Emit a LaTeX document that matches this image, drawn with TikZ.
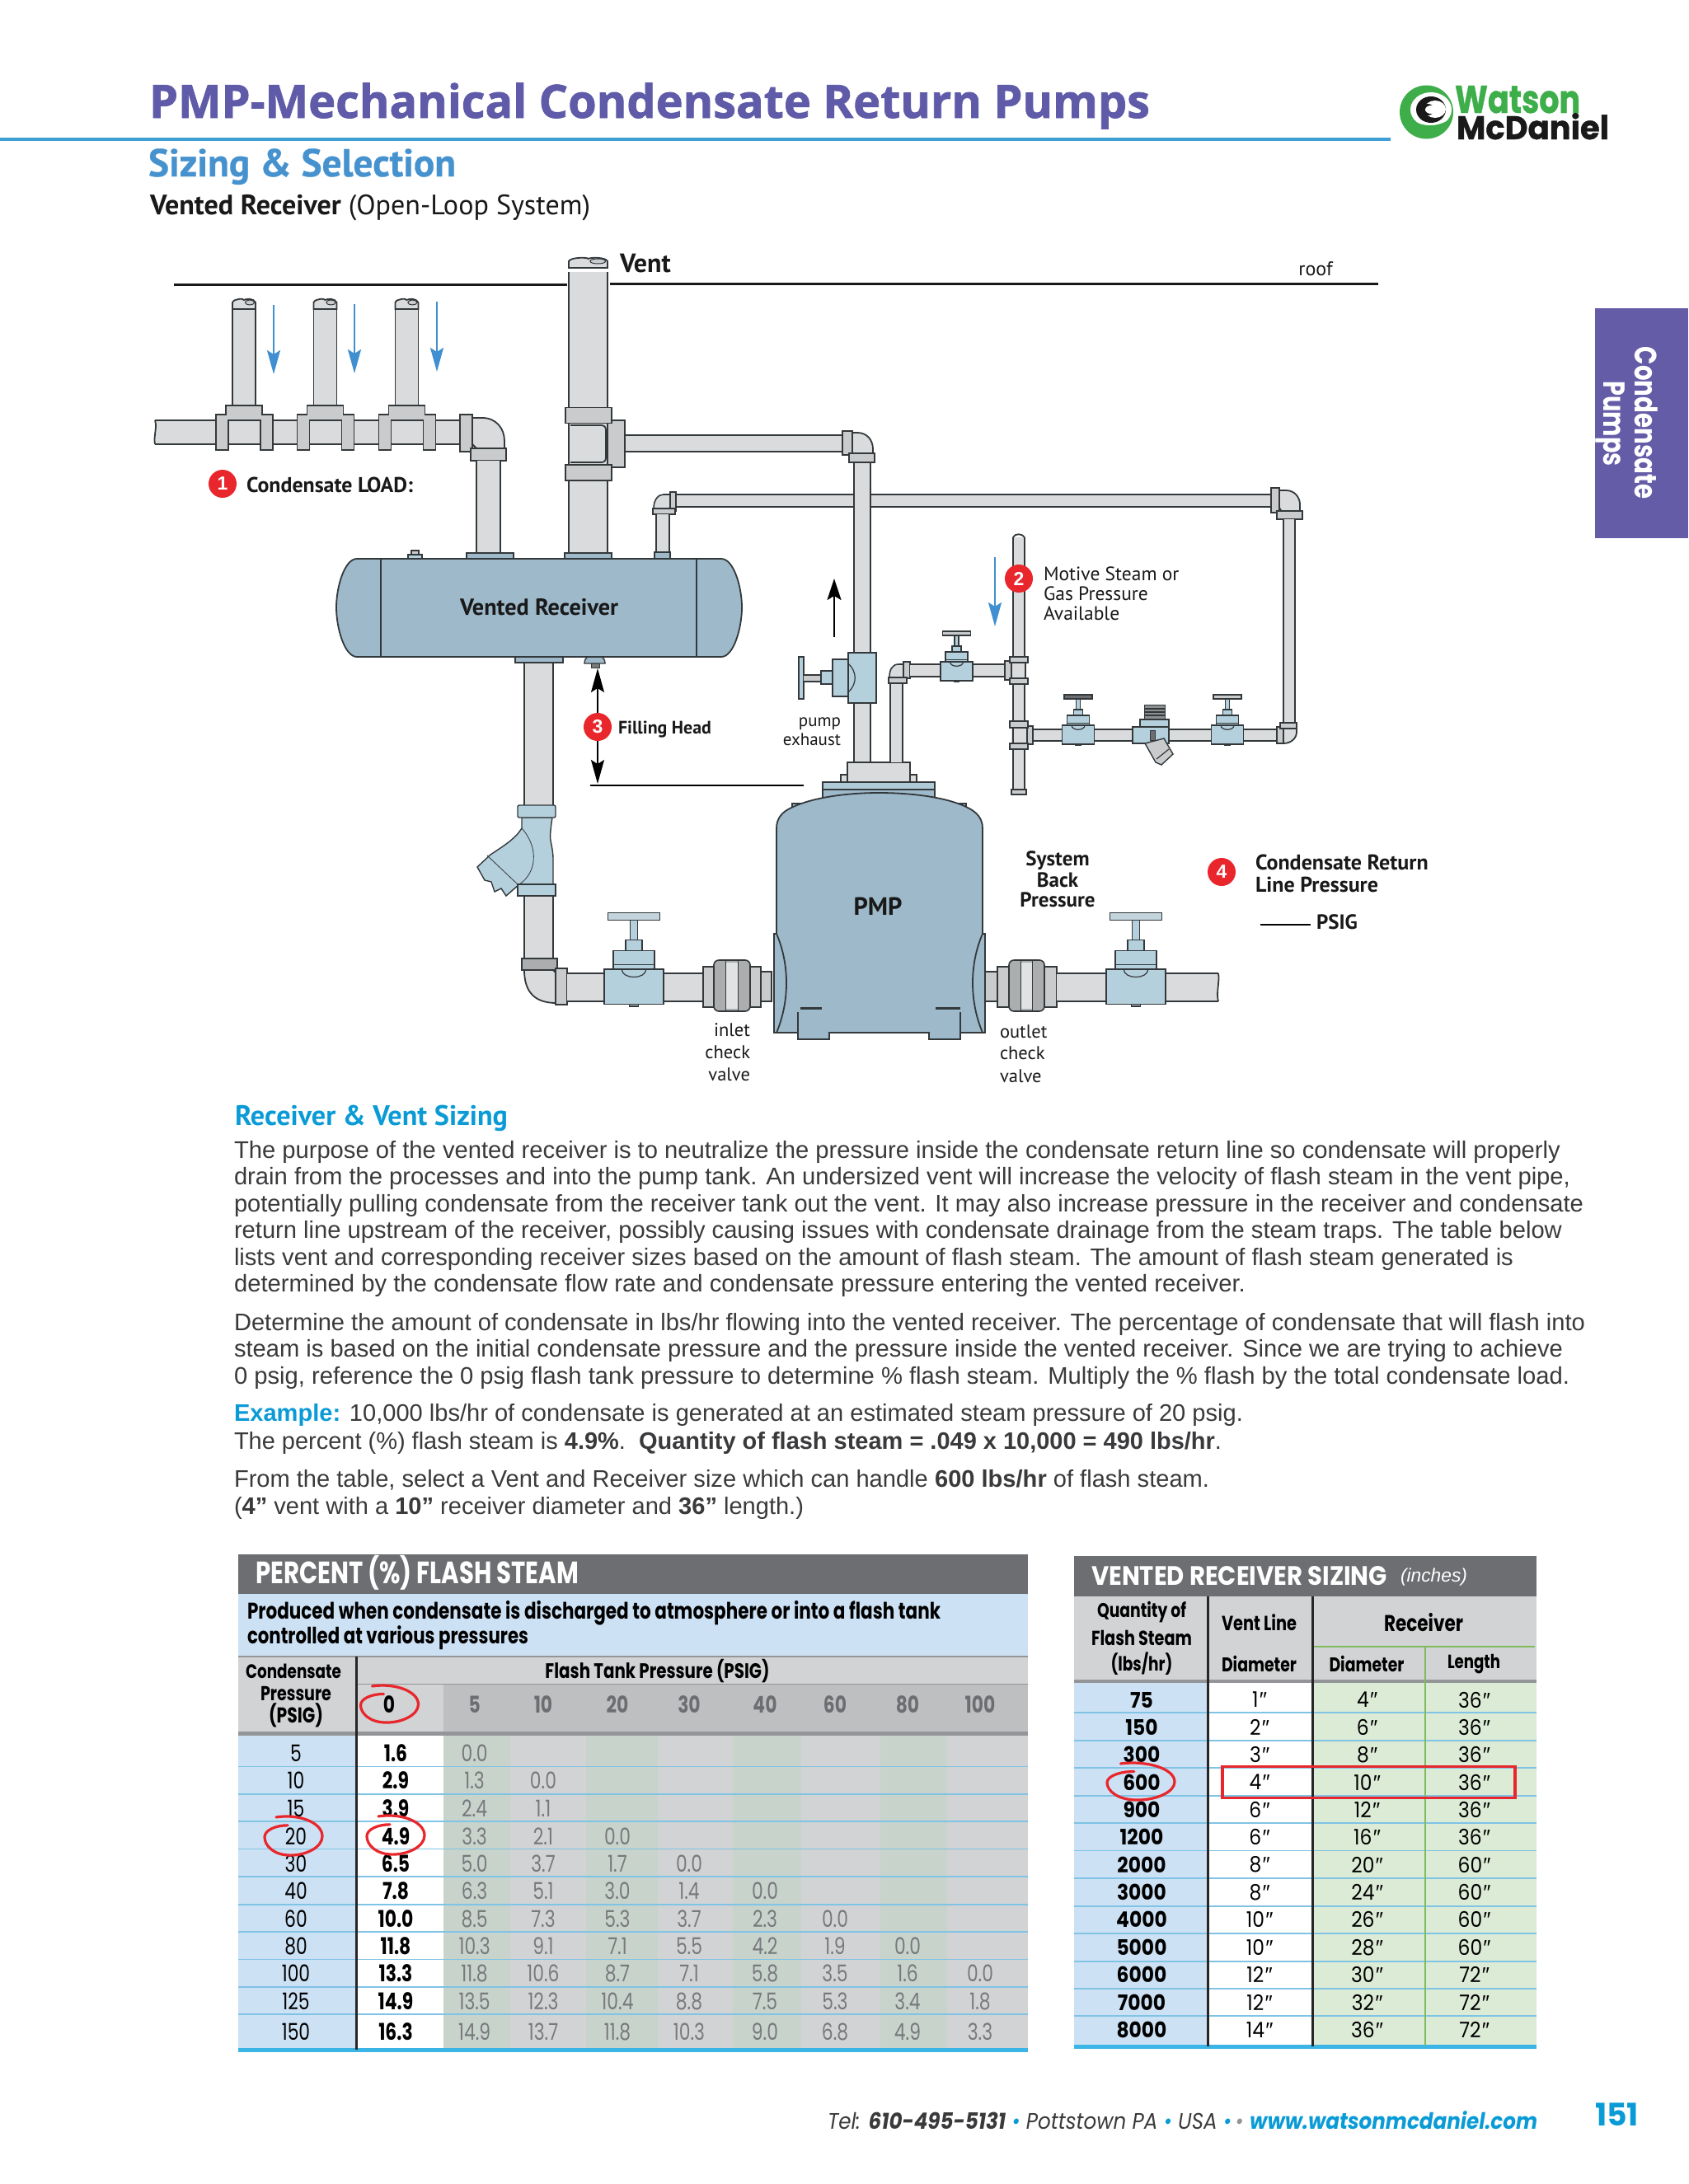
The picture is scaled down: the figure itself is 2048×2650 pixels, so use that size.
\documentclass[tikz,border=0pt]{standalone}
\usepackage{fontspec}
\usepackage{graphicx}
\usetikzlibrary{arrows.meta,calc}
\setmainfont{Liberation Sans}
\newfontfamily\ptf{PT Sans}
\newfontfamily\ptfb[FakeBold=.6]{PT Sans}
\newfontfamily\osf[FakeBold=1.4]{Open Sans}
\newfontfamily\popf{Poppins}
\newfontfamily\popx[FakeBold=1]{Poppins}
\newfontfamily\tbb[FakeStretch=.78]{Poppins}
\newfontfamily\tbw[FakeStretch=.9]{Poppins}
\newcommand\fsz[1]{\fontsize{#1pt}{#1pt}\selectfont}
\newcommand\wl[2]{\resizebox{#1pt}{!}{#2}}
\definecolor{ink}{HTML}{33383B}
\definecolor{pipefill}{HTML}{DADBDD}
\definecolor{flangefill}{HTML}{C9CBCD}
\definecolor{tankblue}{HTML}{9DB9CA}
\definecolor{valveblue}{HTML}{B4D0DC}
\definecolor{arrowblue}{HTML}{408FD0}
\definecolor{markred}{HTML}{E8262B}
\definecolor{purple1}{HTML}{5F5BA8}
\definecolor{tabpurple}{HTML}{655CA8}
\definecolor{titleblue}{HTML}{4692CE}
\definecolor{headblue}{HTML}{0A9BD6}
\definecolor{rulecol}{HTML}{3D9FD3}
\definecolor{bandgray}{HTML}{6D6E71}
\definecolor{lightblue}{HTML}{CDE1F4}
\definecolor{hdgray}{HTML}{D1D3D4}
\definecolor{hdgray2}{HTML}{BDBFC1}
\definecolor{bargray}{HTML}{939598}
\definecolor{colgreen}{HTML}{C8D3CC}
\definecolor{rowline}{HTML}{7FC3E5}
\definecolor{botband}{HTML}{3AB5E6}
\definecolor{valgray}{HTML}{77797C}
\definecolor{paleg}{HTML}{DCEBD6}
\definecolor{gline}{HTML}{7FBB5E}
\definecolor{logogreen}{HTML}{3DAE49}
\definecolor{bodyc}{HTML}{3A3A3C}
\tikzset{
  ln/.style={draw=ink,line width=1.8pt},
  flange/.style={fill=flangefill,draw=ink,line width=1.6pt},
  vbody/.style={fill=valveblue,draw=ink,line width=1.4pt},
  tankst/.style={fill=tankblue,draw=ink,line width=1.8pt},
  bluearr/.style={draw=arrowblue,line width=2.4pt,-{Stealth[length=29pt,width=16pt,inset=5pt]}},
  blackarr/.style={draw=black,line width=2pt,-{Stealth[length=26pt,width=17pt,inset=5pt]}},
  num/.style={circle,fill=markred,text=white,minimum size=34pt,font=\fsz{23}\bfseries},
  lbb/.style={font=\ptf\fsz{25}\bfseries,text=black!90},
  lbr/.style={font=\ptf\fsz{22.5},text=black!90},
  bodyl/.style={anchor=base west,text=bodyc,font=\fsz{30}},
  redl/.style={draw=markred,line width=3.2pt,line cap=round},
}
\newcommand\hp[4]{\fill[pipefill] (#1,#3) rectangle (#2,#4); \draw[ln] (#1,#3)--(#2,#3) (#1,#4)--(#2,#4);}
\newcommand\vp[4]{\fill[pipefill] (#1,#3) rectangle (#2,#4); \draw[ln] (#1,#3)--(#1,#4) (#2,#3)--(#2,#4);}
\newcommand\fl[4]{\filldraw[flange] (#1,#2) rectangle (#3,#4);}
\newcommand\gv[4]{\begin{scope}[shift={(#1,#2)},scale=#3]
 \fill[#4,draw=ink,line width=1.2pt] (-17,-49) rectangle (17,-44);
 \filldraw[vbody] (-2.5,-44) rectangle (2.5,-31);
 \filldraw[vbody] (-5.5,-31) rectangle (5.5,-24);
 \filldraw[vbody] (-13.5,-24) rectangle (13.5,-12);
 \filldraw[vbody] (-19.5,-12) rectangle (19.5,11);
 \draw[draw=ink,line width=.9pt] (-13.5,-15)--(13.5,-15);
 \draw[draw=ink,line width=1.2pt] (-8,-12) .. controls (-8,-5) and (8,-5) .. (8,-12);
 \filldraw[vbody] (-3,11) rectangle (3,12.5);
\end{scope}}
\newcommand\cvbar[4]{%
 \fl{#1}{1173}{#2}{1222}
 \fl{#3}{1173}{#4}{1222}
 \filldraw[fill=flangefill!85!black,draw=ink,line width=1.6pt,rounded corners=6pt] (#2,1165) rectangle (#3,1227);
 \fill[flangefill!55!white] ($(#2,1168)!.33!(#3,1168)$) rectangle ($(#2,1224)!.67!(#3,1224)$);
 \draw[draw=ink,line width=1.2pt] ($(#2,1166)!.33!(#3,1166)$)--($(#2,1226)!.33!(#3,1226)$) ($(#2,1166)!.67!(#3,1166)$)--($(#2,1226)!.67!(#3,1226)$);
}
\newcommand\ptop[3]{%
 \filldraw[fill=pipefill,draw=ink,line width=1.8pt] (#1,{#3+4}) .. controls ({#1+2},{#3-1}) and ({(#1+#2)/2},{#3-1}) .. ({(#1+#2)/2},{#3+1}) .. controls ({(#1+#2)/2+3},{#3-1}) and ({#2-2},{#3-1}) .. (#2,{#3+4}) -- (#2,{#3+12}) -- (#1,{#3+12}) -- cycle;
 \filldraw[fill=flangefill,draw=ink,line width=1pt] ({(#1+3*#2)/4},{#3+4}) ellipse ({(#2-#1)/5} and 3);
}
\newcommand\redloop[4]{\begin{scope}[shift={(#1,#2)},xscale=#3,yscale=#4]
 \draw[redl] (-.6,-1.05) .. controls (.2,-1.25) and (1,-.75) .. (1,0) .. controls (1,.6) and (.45,1.05) .. (-.1,1.05) .. controls (-.7,1.05) and (-1,.5) .. (-1,.05) .. controls (-1,-.35) and (-.6,-.6) .. (-.2,-.6);
\end{scope}}
\begin{document}
\begin{tikzpicture}[x=1pt,y=-1pt,every node/.style={inner sep=0pt,outer sep=0pt}]
\fill[white] (0,0) rectangle (2048,2650);
\useasboundingbox (0,0) rectangle (2048,2650);

%% ---------- page head
\node[anchor=base west,text=purple1,font=\osf\bfseries\fsz{58}] (title) at (181,143) {\wl{1214}{PMP-Mechanical Condensate Return Pumps}};
\draw[draw=rulecol,line width=3.5pt] (0,169)--(1687,169);
\node[anchor=base west,text=titleblue,font=\ptfb\bfseries\fsz{46}] (subt) at (180,214) {\wl{373}{Sizing \& Selection}};
\node[anchor=base west,text=black!90,font=\ptf\fsz{32}] (subs) at (182,260) {\wl{534}{{\bfseries Vented Receiver} (Open-Loop System)}};
%% logo
\fill[logogreen] (1730.5,136) circle (32.5);
\fill[white] (1736,133) ellipse (25 and 21);
\fill[logogreen] (1714,146) .. controls (1722,160) and (1745,162) .. (1760,144) .. controls (1745,154) and (1728,155) .. (1714,146);
\fill[black!90] (1736,133) ellipse (18 and 16);
\fill[white] (1741,132.5) ellipse (13 and 10.5);
\fill[black!90] (1732,133) ellipse (8 and 7);
\fill[white] (1736,133) ellipse (7 and 5);
\node[anchor=base west,text=logogreen,font=\popx\bfseries] (logoa) at (1765,137) {\resizebox{152pt}{33pt}{Watson}};
\node[anchor=base west,text=black!90,font=\popx\bfseries] (logob) at (1767,169) {\resizebox{185pt}{32pt}{McDaniel}};
%% side tab
\fill[tabpurple] (1935,374) rectangle (2048,653);
\node[rotate=-90,text=white,font=\tbb\bfseries] (tab1) at (1997,513) {\wl{184}{Condensate}};
\node[rotate=-90,text=white,font=\tbb\bfseries] (tab2) at (1953,514) {\wl{103}{Pumps}};

%% ---------- roof and labels
\draw[draw=black!90,line width=3pt] (211,345)--(688,345) (740,344)--(1672,344);
\node[anchor=west,font=\ptf\bfseries\fsz{32},text=black!90] (vent) at (752,320) {Vent};
\node[anchor=center,font=\ptf\fsz{24},text=black!90] (roof) at (1596,326) {roof};

%% ---------- steam pipe behind exhaust
\hp{820}{1542}{600}{615}
\vp{1036}{1056}{561}{925}
\hp{758}{1022}{528}{548}
\filldraw[fill=pipefill,draw=ink,line width=1.8pt] (1034,525) -- (1040,525) .. controls (1052,525) and (1059,534) .. (1059,545) -- (1059,551) -- (1036,551) -- (1034,549) -- cycle;
\fl{1022}{523}{1034}{552}
\fl{1030}{550}{1061}{561}
\filldraw[fill=pipefill,draw=ink,line width=1.8pt] (1552,595) -- (1560,595) .. controls (1571,595) and (1577,604) .. (1577,612) -- (1577,621) -- (1555,621) -- (1552,616) -- cycle;
\fl{1542}{592}{1552}{622}
\fl{1549}{620}{1580}{630}
\vp{1557}{1571}{630}{877}
\filldraw[fill=pipefill,draw=ink,line width=1.6pt] (813,600) -- (805,600) .. controls (798,600) and (793,607) .. (793,617) -- (812,617) -- (813,615) -- cycle;
\fl{813}{597}{820}{620}
\fl{792}{617}{819}{624}
\vp{796}{812}{624}{670}
\fl{794}{670}{813}{680}

%% ---------- load header
\hp{188}{558}{510}{539}
\draw[ln] (188,510) .. controls (191,518) and (186,530) .. (188,539);
\foreach \dx [count=\n] in {0,98.5,197.4}{
 \begin{scope}[shift={(\dx,0)}]
  \vp{282}{310}{375}{492}
  \ptop{282}{310}{363}
  \fill[pipefill] (277,510) rectangle (316,539);
  \draw[ln] (277,539)--(316,539);
  \filldraw[flange] (274,492)--(318,492)--(318,503)--(331,503)--(331,546)--(316,546)--(316,510)--(277,510)--(277,546)--(262,546)--(262,503)--(274,503)--cycle;
 \end{scope}}
\filldraw[fill=pipefill,draw=ink,line width=1.8pt] (573,507)--(585,507) .. controls (602,507) and (612,520) .. (612,535)--(612,544)--(578,544)--(573,539)--cycle;
\fl{558}{503}{573}{548}
\fl{571}{544}{614}{559}
\vp{578}{607}{559}{672}
\coordinate (la1) at (332,370); \coordinate (lb1) at (332,454);
\coordinate (la2) at (430,369); \coordinate (lb2) at (430,453);
\coordinate (la3) at (530,366); \coordinate (lb3) at (530,451);
\draw[bluearr] (la1)--(lb1);
\draw[bluearr] (la2)--(lb2);
\draw[bluearr] (la3)--(lb3);
\node[num] (n1) at (270,587) {1};
\node[anchor=base west,font=\ptf\bfseries,text=black!90] (loadl) at (299,597) {\wl{202}{\fsz{26}Condensate LOAD:}};

%% ---------- vent pipe and tee
\vp{690}{737}{330}{672}
\ptop{690}{737}{313}
\filldraw[fill=flangefill,draw=ink,line width=1.6pt] (737,513)--(742,510)--(758,510)--(758,567)--(742,567)--(737,564)--cycle;
\fill[pipefill] (690,513) rectangle (735,564);
\draw[ln] (692,516)--(729,516) .. controls (733,516) and (735,518) .. (735,522)--(735,555) .. controls (735,559) and (733,561) .. (729,561)--(692,561);
\draw[ln] (690,513)--(690,564);
\fl{686}{494.5}{742}{513.6}
\fl{686}{564}{742}{583}

%% ---------- receiver fittings
\filldraw[flange] (499,668) rectangle (508,675);
\filldraw[fill=valveblue,draw=ink,line width=1.4pt] (495,673) rectangle (512,680);
\filldraw[fill=tankblue,draw=ink,line width=1.6pt] (566,671)--(623,671)--(623,680) .. controls (605,686) and (584,686) .. (566,680)--cycle;
\filldraw[fill=tankblue,draw=ink,line width=1.6pt] (685,671)--(742,671)--(742,680) .. controls (725,686) and (702,686) .. (685,680)--cycle;
\filldraw[fill=tankblue,draw=ink,line width=1.4pt] (794,670) rectangle (813,680);
%% drain pipe and strainer
\vp{636}{671}{804}{977}
\vp{636}{671}{1087}{1163}
\filldraw[fill=valveblue,draw=ink,line width=1.4pt] (633,992)--(670,992) .. controls (668,1005) and (667,1015) .. (668,1020) .. controls (670,1030) and (671,1035) .. (671,1043)--(671,1073)--(630,1073)--(614,1087)--(608,1078)--(600,1082)--(596,1070)--(588,1068)--(579,1052)--(595,1037) .. controls (610,1027) and (625,1018) .. (633,1005)--cycle;
\draw[draw=ink,line width=.8pt] (633,1005) .. controls (655,1030) and (650,1060) .. (630,1073) (591,1038)--(628,1073);
\filldraw[fill=valveblue,draw=ink,line width=1.4pt,rounded corners=2pt] (628,977) rectangle (674,992);
\filldraw[fill=valveblue,draw=ink,line width=1.4pt] (628,1073) rectangle (674,1087);
%% bottom port
\filldraw[fill=flangefill!60!black,draw=ink,line width=1pt] (717,803) rectangle (727,810);
\filldraw[fill=tankblue,draw=ink,line width=1.4pt] (709,805) .. controls (709,790) and (734,790) .. (734,805)--cycle;
\filldraw[fill=tankblue,draw=ink,line width=1.6pt] (625,804)--(683,804)--(683,798) .. controls (670,788) and (638,788) .. (625,798)--cycle;
%% receiver
\filldraw[tankst] (433,678)--(875,678) .. controls (890,678) and (900,712) .. (900,737) .. controls (900,762) and (890,797) .. (875,797)--(433,797) .. controls (418,797) and (408,762) .. (408,737) .. controls (408,712) and (418,678) .. (433,678)--cycle;
\draw[ln] (462,678)--(462,797) (845,678)--(845,797);
\node[font=\ptf\bfseries\fsz{29},text=black!90] (recv) at (654,737) {\wl{192}{Vented Receiver}};

%% filling head
\coordinate (fha) at (725,811); \coordinate (fhb) at (725,951);
\draw[draw=black,line width=1.6pt,{Stealth[length=29pt,width=16pt,inset=5pt]}-{Stealth[length=29pt,width=16pt,inset=5pt]}] (fha)--(fhb);
\draw[draw=black,line width=2.4pt] (716,953)--(975,953);
\node[num] (n3) at (725,882) {3};
\node[anchor=base west,font=\ptf\bfseries,text=black!90] (filll) at (750,890) {\wl{113}{\fsz{24}Filling Head}};

%% ---------- drain elbow and inlet line
\filldraw[fill=pipefill,draw=ink,line width=1.8pt] (636,1177) .. controls (636,1205) and (650,1217) .. (675,1217)--(675,1181)--(671,1177)--cycle;
\filldraw[fill=flangefill!85!black,draw=ink,line width=1.6pt] (633,1163) rectangle (676,1177);
\fl{674}{1175}{688}{1219}
\hp{688}{854}{1181}{1215}
\gv{769}{1198}{1.85}{valveblue!60!pipefill}
\fl{923}{1179}{936}{1215}
\cvbar{853}{866}{910}{923}

%% ---------- PMP pump
\filldraw[fill=pipefill,draw=ink,line width=1.6pt] (1028,925) rectangle (1104,949);
\filldraw[fill=pipefill,draw=ink,line width=1.2pt] (1020,940) rectangle (1028,949);
\filldraw[fill=pipefill,draw=ink,line width=1.2pt] (1104,940) rectangle (1112,949);
\filldraw[fill=valveblue!80!tankblue,draw=ink,line width=1.6pt] (998,949) rectangle (1134,958);
\filldraw[fill=tankblue,draw=ink,line width=1.6pt] (998,958) rectangle (1134,975);
\filldraw[fill=valveblue,draw=ink,line width=1.2pt] (961,975) rectangle (1172,987);
\filldraw[tankst] (942,1253)--(942,1005) .. controls (942,992) and (950,985) .. (958,981) .. controls (985,967) and (1030,962) .. (1066,962) .. controls (1105,962) and (1150,967) .. (1176,981) .. controls (1185,986) and (1192,993) .. (1192,1005)--(1192,1253)--cycle;
\fl{1194}{1179}{1210}{1215}
\cvbar{1210}{1224}{1267}{1282}
\hp{1282}{1342}{1181}{1215}
\filldraw[tankst] (939,1133)--(939,1253)--(942,1253) .. controls (958,1215) and (958,1170) .. (942,1133)--cycle;
\filldraw[tankst] (1195,1133)--(1195,1253)--(1192,1253) .. controls (1176,1215) and (1176,1170) .. (1192,1133)--cycle;
\filldraw[tankst] (968,1228)--(968,1261)--(1006,1261)--(1006,1253)--(1127,1253)--(1127,1261)--(1165,1261)--(1165,1228);
\fill[tankblue] (971,1229) rectangle (1162,1252);
\draw[draw=ink,line width=3pt] (971,1223)--(997,1223) (1135,1223)--(1165,1223);
\draw[draw=ink,line width=1.8pt] (942,1253)--(968,1253) (1165,1253)--(1192,1253);
\node[font=\ptf\bfseries,text=black!90] (pmp) at (1065,1100) {\wl{59}{\fsz{30}PMP}};
\hp{1415}{1478}{1181}{1215}
\gv{1378}{1198}{1.85}{valveblue!60!pipefill}
\draw[ln] (1478,1181) .. controls (1480,1190) and (1475,1205) .. (1478,1215);

%% ---------- exhaust valve, motive line
\filldraw[vbody] (969,797) rectangle (975,848);
\fill[flangefill] (975,819) rectangle (996,827);
\draw[ln] (975,819)--(996,819) (975,827)--(996,827);
\filldraw[vbody] (996,814) rectangle (1010,830);
\filldraw[vbody] (1010,800) rectangle (1029,845);
\filldraw[vbody] (1029,792) rectangle (1063,853);
\draw[draw=ink,line width=1.2pt] (1029,805) .. controls (1040,815) and (1040,830) .. (1029,840);
\node[anchor=base east,font=\ptf\fsz{21},text=black!90] (pe1) at (1020,881) {pump};
\node[anchor=base east,font=\ptf\fsz{21},text=black!90] (pe2) at (1020,904) {exhaust};
\coordinate (upa) at (1012,773); \coordinate (upb) at (1012,702);
\draw[blackarr] (upa)--(upb);

\vp{1080}{1095}{829}{925}
\filldraw[fill=pipefill,draw=ink,line width=1.6pt] (1096,806) -- (1090,806) .. controls (1082,806) and (1079,813) .. (1079,822)--(1096,822)--cycle;
\fl{1096}{803}{1104}{823}
\fl{1078}{822}{1100}{829}
\hp{1104}{1219}{806}{821}
\gv{1160.5}{815}{1}{flangefill}

\vp{1229}{1243}{652}{958}
\fl{1227}{958}{1245}{964}
\fill[pipefill] (1227,804) rectangle (1245,823);
\fl{1219}{802}{1227}{825}
\draw[ln] (1244,804)--(1244,823);
\fl{1225}{797}{1247}{804}
\fl{1225}{823}{1247}{830}
\draw[ln] (1229,652) .. controls (1231,647) and (1240,647) .. (1243,652);
\coordinate (mba) at (1207,676); \coordinate (mbb) at (1207,760);
\draw[bluearr] (mba)--(mbb);
\node[num] (n2) at (1236,702) {2};
\node[anchor=west,font=\ptf\fsz{23.5},text=black!90] (mo1) at (1266,696) {Motive Steam or};
\node[anchor=west,font=\ptf\fsz{23.5},text=black!90] (mo2) at (1266,720) {Gas Pressure};
\node[anchor=west,font=\ptf\fsz{23.5},text=black!90] (mo3) at (1266,744) {Available};

%% lower branch
\hp{1253}{1549}{885}{899}
\fill[pipefill] (1227,883) rectangle (1246,902);
\draw[ln] (1229,883)--(1229,902);
\fl{1246}{881}{1253}{903}
\fl{1225}{875}{1247}{883}
\fl{1225}{902}{1247}{909}
\gv{1308}{892}{1}{bandgray}
\gv{1489}{892}{1}{flangefill}
\filldraw[fill=flangefill!70!black,draw=ink,line width=1pt] (1388,855) rectangle (1413,873);
\draw[draw=ink,line width=1.2pt] (1388,860)--(1413,860) (1388,864)--(1413,864) (1388,868)--(1413,868);
\filldraw[vbody] (1383,873) rectangle (1418,882);
\filldraw[vbody] (1374,882) rectangle (1418,902);
\filldraw[fill=flangefill,draw=ink,line width=1.4pt] (1389,902)--(1402,925)--(1409,928)--(1423,915)--(1412,896)--cycle;
\draw[draw=ink,line width=1.2pt] (1403,921)--(1418,909);
\filldraw[fill=bandgray,draw=ink,line width=.6pt] (1395,886) rectangle (1401,898);
\filldraw[fill=pipefill,draw=ink,line width=1.8pt] (1557,882)--(1573,882)--(1573,888) .. controls (1573,896) and (1566,902) .. (1557,902)--cycle;
\fl{1549}{882}{1557}{902}
\fl{1553}{877}{1573}{884}

%% ---------- diagram labels
\node[lbb,align=center] (sbp1) at (1283,1044) {System};
\node[lbb,align=center] (sbp2) at (1283,1068) {Back};
\node[lbb,align=center] (sbp3) at (1283,1092) {Pressure};
\node[lbr,anchor=east] (ic1) at (910,1250) {inlet};
\node[lbr,anchor=east] (ic2) at (910,1277) {check};
\node[lbr,anchor=east] (ic3) at (910,1304) {valve};
\node[lbr,anchor=west] (oc1) at (1213,1252) {outlet};
\node[lbr,anchor=west] (oc2) at (1213,1278) {check};
\node[lbr,anchor=west] (oc3) at (1213,1306) {valve};
\node[num] (n4) at (1482,1058) {4};
\node[anchor=west,font=\ptf\fsz{26}\bfseries,text=black!90] (cr1) at (1523,1046) {Condensate Return};
\node[anchor=west,font=\ptf\fsz{26}\bfseries,text=black!90] (cr2) at (1523,1073) {Line Pressure};
\draw[draw=black,line width=2.4pt] (1529,1122)--(1590,1122);
\node[lbb,anchor=west] (ps) at (1597,1119) {PSIG};

%% ---------- body text
\node[anchor=base west,text=headblue,font=\ptf\bfseries] (rv) at (285,1365) {\wl{331}{\fsz{34}Receiver \& Vent Sizing}};
\node[bodyl] (b1) at (284,1405) {\wl{1609}{The purpose of the vented receiver is to neutralize the pressure inside the condensate return line so condensate will properly}};
\node[bodyl] (b2) at (284,1437.5) {\wl{1621}{drain from the processes and into the pump tank. An undersized vent will increase the velocity of flash steam in the vent pipe,}};
\node[bodyl] (b3) at (284,1470) {\wl{1637}{potentially pulling condensate from the receiver tank out the vent. It may also increase pressure in the receiver and condensate}};
\node[bodyl] (b4) at (284,1502.5) {\wl{1611}{return line upstream of the receiver, possibly causing issues with condensate drainage from the steam traps. The table below}};
\node[bodyl] (b5) at (284,1535) {\wl{1552}{lists vent and corresponding receiver sizes based on the amount of flash steam. The amount of flash steam generated is}};
\node[bodyl] (b6) at (284,1567.5) {\wl{1227}{determined by the condensate flow rate and condensate pressure entering the vented receiver.}};
\node[bodyl] (c1) at (284,1614) {\wl{1639}{Determine the amount of condensate in lbs/hr flowing into the vented receiver. The percentage of condensate that will flash into}};
\node[bodyl] (c2) at (284,1646) {\wl{1612}{steam is based on the initial condensate pressure and the pressure inside the vented receiver. Since we are trying to achieve}};
\node[bodyl] (c3) at (284,1679) {\wl{1620}{0 psig, reference the 0 psig flash tank pressure to determine \% flash steam. Multiply the \% flash by the total condensate load.}};
\node[bodyl] (d1) at (284,1724) {\wl{1224}{{\color{headblue}\bfseries Example:} 10,000 lbs/hr of condensate is generated at an estimated steam pressure of 20 psig.}};
\node[bodyl] (d2) at (284,1758) {\wl{1198}{The percent (\%) flash steam is {\bfseries 4.9\%}.\ \ {\bfseries Quantity of flash steam = .049 x 10,000 = 490 lbs/hr}.}};
\node[bodyl] (e1) at (284,1804) {\wl{1183}{From the table, select a Vent and Receiver size which can handle {\bfseries 600 lbs/hr} of flash steam.}};
\node[bodyl] (e2) at (284,1837) {\wl{691}{({\bfseries 4”} vent with a {\bfseries 10”} receiver diameter and {\bfseries 36”} length.)}};

%% ---------- table 1
\fill[bandgray] (289,1886) rectangle (1247,1934);
\node[anchor=west,text=white,font=\tbb\bfseries] (t1title) at (310,1908) {\wl{392}{\fsz{34}PERCENT (\%) FLASH STEAM}};
\fill[lightblue] (289,1934) rectangle (1247,2009);
\node[anchor=base west,font=\tbb\bfseries] (t1s1) at (300,1964) {\wl{841}{\fsz{26}Produced when condensate is discharged to atmosphere or into a flash tank}};
\node[anchor=base west,font=\tbb\bfseries] (t1s2) at (300,1994) {\wl{341}{\fsz{26}controlled at various pressures}};
\fill[hdgray] (289,2009) rectangle (1247,2101);
\fill[hdgray2] (537.5,2044) rectangle (1247,2101);
\draw[draw=bargray,line width=2.6pt] (289,2010)--(1247,2010);
\draw[draw=bargray,line width=1pt] (432,2043)--(1247,2043);
\fill[lightblue] (289,2106) rectangle (432,2485);
\fill[white] (432,2106) rectangle (537.5,2485);
\fill[colgreen] (537.5,2106) rectangle (619,2485);
\fill[hdgray] (619,2106) rectangle (711,2485);
\fill[colgreen] (711,2106) rectangle (797.5,2485);
\fill[hdgray] (797.5,2106) rectangle (889,2485);
\fill[colgreen] (889,2106) rectangle (972,2485);
\fill[hdgray] (972,2106) rectangle (1068,2485);
\fill[colgreen] (1068,2106) rectangle (1149,2485);
\fill[hdgray] (1149,2106) rectangle (1247,2485);
\fill[bargray] (289,2101) rectangle (1247,2106);
\foreach \ly in {2143.5,2177,2210,2243.5,2277,2311,2344,2377.5,2411,2444}
 \draw[draw=rowline,line width=1.4pt] (289,\ly)--(1247,\ly);
\fill[botband] (289,2485) rectangle (1247,2490);
\draw[draw=black!85,line width=3pt] (432,2010)--(432,2487);
\node[font=\tbb\bfseries] (t1h1) at (356,2028) {\wl{116}{\fsz{24}Condensate}};
\node[font=\tbb\bfseries] (t1h2) at (359,2055) {\wl{86}{\fsz{24}Pressure}};
\node[font=\tbb\bfseries] (t1h3) at (359,2081) {\wl{66}{\fsz{24}(PSIG)}};
\node[font=\tbb\bfseries] (t1h4) at (797.5,2028) {\wl{272}{\fsz{24}Flash Tank Pressure (PSIG)}};
\node[font=\tbb\bfseries\fsz{28}] (t1c0) at (472,2068) {0};
\foreach \hx/\hl [count=\k] in {575.6/5,659/10,749/20,836/30,928/40,1013/60,1101/80,1189/100}
 \node[font=\tbb\bfseries\fsz{28},text=bandgray] (t1c\k) at (\hx,2068) {\hl};
\foreach \yy/\lab/\bb/\vals [count=\rr] in {
 2127/5/1.6/{0.0},
 2160.5/10/2.9/{1.3,0.0},
 2194/15/3.9/{2.4,1.1},
 2228/20/4.9/{3.3,2.1,0.0},
 2261/30/6.5/{5.0,3.7,1.7,0.0},
 2294.5/40/7.8/{6.3,5.1,3.0,1.4,0.0},
 2328/60/10.0/{8.5,7.3,5.3,3.7,2.3,0.0},
 2361/80/11.8/{10.3,9.1,7.1,5.5,4.2,1.9,0.0},
 2394.5/100/13.3/{11.8,10.6,8.7,7.1,5.8,3.5,1.6,0.0},
 2428/125/14.9/{13.5,12.3,10.4,8.8,7.5,5.3,3.4,1.8},
 2465/150/16.3/{14.9,13.7,11.8,10.3,9.0,6.8,4.9,3.3}}{
  \node[font=\tbb\fsz{28}] (t1r\rr) at (359,\yy) {\lab};
  \node[font=\tbb\bfseries\fsz{28}] (t1b\rr) at (480,\yy) {\bb};
  \foreach \vv [count=\cc] in \vals {
    \pgfmathsetmacro\xx{{575.6,659,749,836,928,1013,1101,1189}[\cc-1]}
    \node[font=\tbb\fsz{28},text=valgray] (t1v\rr x\cc) at (\xx,\yy) {\vv};
  }
}
\redloop{472.5}{2068}{35}{21}
\redloop{356}{2228}{35}{22}
\redloop{480}{2227}{35}{22}

%% ---------- table 2
\fill[bandgray] (1303,1888) rectangle (1864,1937);
\node[anchor=west,text=white,font=\tbw\bfseries] (t2title) at (1324,1912) {\wl{359}{\fsz{32}VENTED RECEIVER SIZING}};
\node[anchor=west,text=white,font=\fsz{26}\itshape] (t2unit) at (1699,1914) {\wl{81}{(inches)}};
\fill[hdgray] (1303,1937) rectangle (1864,2038);
\fill[lightblue] (1303,2042) rectangle (1465.5,2482);
\fill[white] (1465.5,2042) rectangle (1592,2482);
\fill[paleg] (1592,2042) rectangle (1864,2482);
\fill[bargray] (1303,2038) rectangle (1864,2042);
\foreach \ly in {2078,2112,2145,2179,2212,2245.5,2279,2313,2346,2380,2413,2446}
 \draw[draw=rowline,line width=1.4pt] (1303,\ly)--(1864,\ly);
\fill[botband] (1303,2481) rectangle (1864,2486);
\draw[draw=gline,line width=1.6pt] (1592,1998)--(1862,1998) (1729,1998)--(1729,2482);
\draw[draw=black!85,line width=3pt] (1465.5,1937)--(1465.5,2483) (1592,1937)--(1592,2483);
\node[font=\tbb\bfseries] (t2h1) at (1385,1956) {\wl{108}{\fsz{25}Quantity of}};
\node[font=\tbb\bfseries] (t2h2) at (1385,1987) {\wl{122}{\fsz{25}Flash Steam}};
\node[font=\tbb\bfseries] (t2h3) at (1385,2019) {\wl{75}{\fsz{25}(lbs/hr)}};
\node[font=\tbb\bfseries] (t2h4) at (1527.5,1969) {\wl{91}{\fsz{25}Vent Line}};
\node[font=\tbb\bfseries] (t2h5) at (1527.5,2019) {\wl{91}{\fsz{25}Diameter}};
\node[font=\tbb\bfseries] (t2h6) at (1727,1969) {\wl{96}{\fsz{28}Receiver}};
\node[font=\tbb\bfseries] (t2h7) at (1658,2019) {\wl{91}{\fsz{25}Diameter}};
\node[font=\tbb\bfseries] (t2h8) at (1788,2019) {\wl{64}{\fsz{25}Length}};
\foreach \yy/\qq/\vl/\dd/\llen [count=\rr] in {
 2062.5/75/1/4/36, 2095.7/150/2/6/36, 2129/300/3/8/36, 2162.5/600/4/10/36,
 2195.7/900/6/12/36, 2229/1200/6/16/36, 2262.5/2000/8/20/60, 2296/3000/8/24/60,
 2329/4000/10/26/60, 2363/5000/10/28/60, 2396/6000/12/30/72, 2430/7000/12/32/72,
 2463/8000/14/36/72}{
  \node[font=\tbw\bfseries\fsz{26}] (t2q\rr) at (1385,\yy) {\qq};
  \node[font=\tbw\fsz{26}] (t2v\rr) at (1527.5,\yy) {\vl{\rmfamily\itshape ″}};
  \node[font=\tbw\fsz{26}] (t2d\rr) at (1658,\yy) {\dd{\rmfamily\itshape ″}};
  \node[font=\tbw\fsz{26}] (t2l\rr) at (1788,\yy) {\llen{\rmfamily\itshape ″}};
}
\draw[draw=markred,line width=3.5pt] (1483,2143.5) rectangle (1838,2181.5);
\redloop{1384}{2162}{41}{21}

%% ---------- footer
\node[anchor=base west,text=bodyc,font=\tbw\itshape] (foot) at (1004,2583) {\wl{861}{\fsz{26}Tel: {\bfseries 610-495-5131} {\color{headblue}•} Pottstown PA {\color{headblue}•} USA {\color{headblue}•}\,{\color{bargray}•} {\color{headblue}\bfseries www.watsonmcdaniel.com}}};
\node[anchor=base west,text=headblue,font=\popf\bfseries] (pg) at (1935,2579) {\wl{53}{\fsz{30}151}};
\end{tikzpicture}
\end{document}
